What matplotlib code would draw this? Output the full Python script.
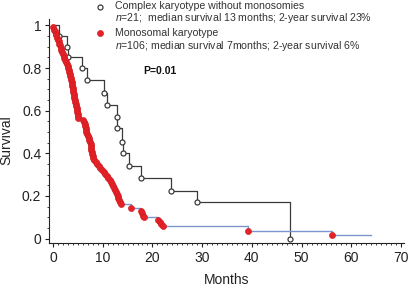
import numpy as np
import matplotlib
matplotlib.use("Agg")
import matplotlib.pyplot as plt
from matplotlib.ticker import MultipleLocator

plt.rcParams['font.family'] = ['Liberation Sans', 'DejaVu Sans']
plt.rcParams['mathtext.fontset'] = 'custom'
plt.rcParams['mathtext.rm'] = 'Liberation Sans'
plt.rcParams['mathtext.it'] = 'Liberation Sans:italic'

# complex karyotype without monosomies (n=21)
cx_months = [0, 1.2, 2.75, 2.95, 5.8, 6.9, 10.2, 10.8, 12.8, 12.9, 13.8, 14.0,
             15.2, 17.8, 23.7, 28.9, 47.7]
cx_surv = [1.0, 0.95, 0.90, 0.85, 0.80, 0.745, 0.685, 0.627, 0.572, 0.517, 0.454,
           0.40, 0.34, 0.285, 0.225, 0.17, 0.0]

# monosomal karyotype (n=106)
mk_months = [0, 0.10, 0.25, 0.40, 0.55, 0.70, 0.85, 1.00, 1.15, 1.30, 1.45, 1.55,
             1.70, 1.85, 2.00, 2.15, 2.30, 2.50, 2.65, 2.80, 2.95, 3.05, 3.15,
             3.25, 3.35, 3.45, 3.55, 3.65, 3.75, 3.80, 3.90, 3.95, 4.00, 4.10,
             4.15, 4.20, 4.30, 4.40, 4.50, 4.55, 4.65, 4.75, 4.85, 4.90, 5.00,
             5.05, 5.10, 6.10, 6.25, 6.35, 6.45, 6.55, 6.60, 6.70, 6.85, 7.00,
             7.15, 7.30, 7.45, 7.55, 7.60, 7.65, 7.70, 7.75, 7.85, 7.95, 8.10,
             8.35, 8.60, 8.90, 9.20, 9.45, 9.80, 10.20, 10.50, 10.80, 11.10,
             11.40, 11.65, 11.90, 12.10, 12.30, 12.55, 12.75, 12.85, 13.00,
             13.10, 13.25, 13.45, 13.65, 15.60, 17.80, 17.95, 18.15, 18.40,
             21.20, 21.45, 21.75, 22.10, 39.20, 56.10]
mk_surv = [1.0, 0.991, 0.981, 0.972, 0.962, 0.953, 0.943, 0.934, 0.925, 0.915,
           0.906, 0.896, 0.887, 0.877, 0.868, 0.858, 0.849, 0.840, 0.830, 0.821,
           0.811, 0.802, 0.792, 0.783, 0.774, 0.764, 0.755, 0.745, 0.736, 0.726,
           0.717, 0.708, 0.698, 0.689, 0.679, 0.670, 0.660, 0.651, 0.642, 0.632,
           0.623, 0.613, 0.604, 0.594, 0.585, 0.575, 0.566, 0.557, 0.547, 0.538,
           0.528, 0.519, 0.509, 0.500, 0.491, 0.481, 0.472, 0.462, 0.453, 0.443,
           0.434, 0.425, 0.415, 0.406, 0.396, 0.387, 0.377, 0.368, 0.358, 0.349,
           0.340, 0.330, 0.321, 0.311, 0.302, 0.292, 0.283, 0.274, 0.264, 0.255,
           0.245, 0.236, 0.226, 0.217, 0.207, 0.198, 0.189, 0.179, 0.170, 0.160,
           0.141, 0.127, 0.118, 0.108, 0.099, 0.085, 0.076, 0.066, 0.057, 0.037,
           0.018]
mk_end = 64.0

fig = plt.figure(figsize=(4.09, 2.86), dpi=100)
ax = fig.add_axes([0.1198, 0.1503, 0.868, 0.783])

grey = '#3a3a3a'
blue = '#7b95cf'
red = '#e42228'

ax.step(cx_months, cx_surv, where='post', color=grey, lw=0.9, zorder=2)
ax.plot(cx_months[1:], cx_surv[1:], 'o', ms=3.6, mfc='white', mec=grey, mew=0.9,
        zorder=3, clip_on=False)

ax.step(mk_months + [mk_end], mk_surv + [mk_surv[-1]], where='post', color=blue,
        lw=1.0, zorder=2)
ax.plot(mk_months[1:], mk_surv[1:], 'o', ms=4.4, mfc=red, mec='#d01a20', mew=0.4,
        zorder=4)

ax.set_xlim(-0.8, 70.6)
ax.set_ylim(-0.021, 1.03)
ax.spines['top'].set_visible(False)
ax.spines['right'].set_visible(False)
for s in ('left', 'bottom'):
    ax.spines[s].set_linewidth(0.8)
    ax.spines[s].set_color('#222222')

ax.xaxis.set_major_locator(MultipleLocator(10))
ax.xaxis.set_minor_locator(MultipleLocator(1))
ax.yaxis.set_major_locator(MultipleLocator(0.2))
ax.yaxis.set_minor_locator(MultipleLocator(0.05))
ax.set_yticks([0, 0.2, 0.4, 0.6, 0.8, 1.0])
ax.set_yticklabels(['0', '0.2', '0.4', '0.6', '0.8', '1'])
ax.tick_params(which='major', length=3, width=0.8, labelsize=10, pad=2.5,
               color='#222222', labelcolor='#222222')
ax.tick_params(which='minor', length=1.5, width=0.6, color='#222222')

ax.set_xlabel('Months', fontsize=10, color='#222222')
ax.set_ylabel('Survival', fontsize=10, color='#222222')
ax.xaxis.set_label_coords(0.501, -0.134)
ax.yaxis.set_label_coords(-0.101, 0.46)

# legend drawn by hand
tc = '#333333'
fs = 7.6
ax.plot([100 / 409], [1 - 7 / 286], 'o', ms=3.6, mfc='white', mec=grey, mew=0.9,
        transform=fig.transFigure, clip_on=False)
ax.plot([100 / 409], [1 - 33 / 286], 'o', ms=4.4, mfc=red, mec='#d01a20', mew=0.4,
        transform=fig.transFigure, clip_on=False)
fig.text(115 / 409, 1 - 6 / 286, 'Complex karyotype without monosomies',
         fontsize=fs, color=tc, va='center')
fig.text(115 / 409, 1 - 18 / 286,
         '$n$=21;  median survival 13 months; 2-year survival 23%',
         fontsize=fs, color=tc, va='center')
fig.text(115 / 409, 1 - 33 / 286, 'Monosomal karyotype',
         fontsize=fs, color=tc, va='center')
fig.text(115 / 409, 1 - 46 / 286,
         '$n$=106; median survival 7months; 2-year survival 6%',
         fontsize=fs, color=tc, va='center')
fig.text(143 / 409, 1 - 71 / 286, 'P=0.01', fontsize=7.5, fontweight='bold',
         color='#111111', va='center')

fig.savefig('out.png', dpi=100)
